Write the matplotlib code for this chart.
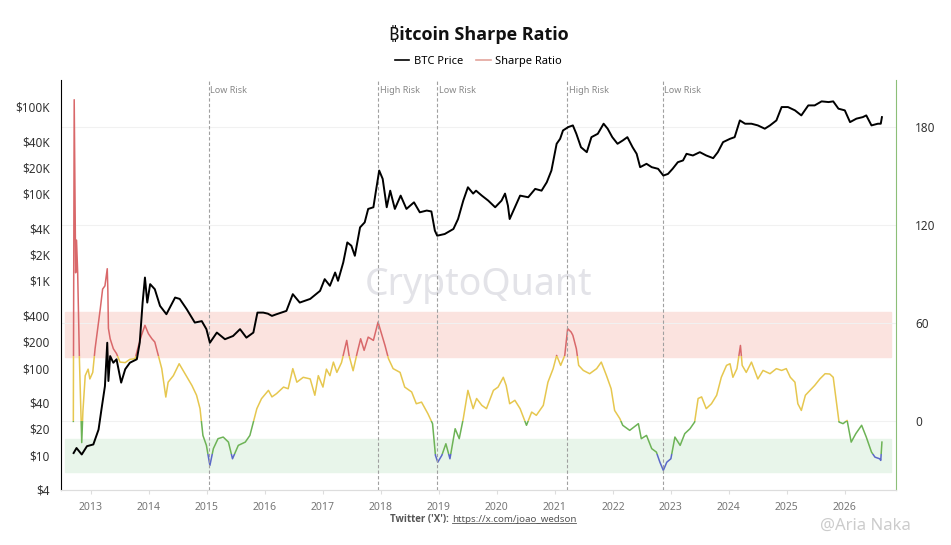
import matplotlib
matplotlib.use("Agg")
import matplotlib.pyplot as plt
from matplotlib.patches import Rectangle
from matplotlib.lines import Line2D
import numpy as np

plt.rcParams['font.family'] = ['Noto Sans', 'DejaVu Sans']

# BTC price (decimal year, USD)
btc_year = [2012.70, 2012.75, 2012.84, 2012.93, 2013.04, 2013.13, 2013.18, 2013.24, 2013.28, 2013.30,
            2013.33, 2013.385, 2013.44, 2013.52, 2013.59, 2013.67, 2013.79, 2013.84, 2013.89, 2013.93,
            2013.97, 2014.02, 2014.10, 2014.19, 2014.30, 2014.45, 2014.53, 2014.65, 2014.79, 2014.91,
            2014.99, 2015.05, 2015.17, 2015.31, 2015.45, 2015.57, 2015.68, 2015.80, 2015.87, 2015.97,
            2016.05, 2016.12, 2016.20, 2016.37, 2016.48, 2016.60, 2016.78, 2016.95, 2017.03, 2017.12,
            2017.21, 2017.26, 2017.35, 2017.42, 2017.49, 2017.55, 2017.64, 2017.72, 2017.78, 2017.87,
            2017.91, 2017.97, 2018.03, 2018.10, 2018.16, 2018.24, 2018.34, 2018.44, 2018.57, 2018.67,
            2018.79, 2018.87, 2018.93, 2018.97, 2019.10, 2019.25, 2019.33, 2019.42, 2019.50, 2019.59,
            2019.64, 2019.74, 2019.85, 2019.97, 2020.08, 2020.14, 2020.19, 2020.22, 2020.31, 2020.40,
            2020.54, 2020.66, 2020.77, 2020.86, 2020.94, 2021.03, 2021.09, 2021.14, 2021.23, 2021.31,
            2021.37, 2021.45, 2021.55, 2021.63, 2021.74, 2021.84, 2021.91, 2021.99, 2022.08, 2022.17,
            2022.25, 2022.34, 2022.41, 2022.47, 2022.58, 2022.67, 2022.78, 2022.87, 2022.95, 2023.03,
            2023.12, 2023.21, 2023.27, 2023.38, 2023.50, 2023.61, 2023.73, 2023.81, 2023.90, 2024.02,
            2024.10, 2024.19, 2024.28, 2024.39, 2024.50, 2024.62, 2024.71, 2024.82, 2024.91, 2025.02,
            2025.14, 2025.25, 2025.37, 2025.48, 2025.60, 2025.72, 2025.80, 2025.89, 2026.00, 2026.09,
            2026.20, 2026.31, 2026.37, 2026.46, 2026.57, 2026.62, 2026.64]
btc_price = [10.6, 12.1, 10.2, 12.7, 13.3, 19.7, 33.5, 62, 195, 71,
             137, 115, 126, 68, 97, 115, 126, 195, 563, 1090,
             563, 916, 801, 516, 414, 643, 620, 473, 332, 345,
             279, 195, 255, 214, 233, 279, 223, 255, 432, 432,
             420, 396, 414, 452, 703, 563, 620, 767, 1045, 877,
             1245, 1000, 1622, 2754, 2524, 1936, 4100, 4680, 6670, 6970,
             10350, 18370, 14750, 6970, 10800, 6670, 9480, 6670, 7940, 6100,
             6390, 6240, 3760, 3290, 3440, 3930, 5110, 8310, 11820, 10000,
             10800, 9480, 8310, 6970, 8310, 10000, 7280, 5110, 6970, 9480,
             9080, 11320, 10800, 13490, 18370, 37240, 42460, 52970, 57840, 60500,
             48500, 34000, 29850, 44360, 48500, 63250, 55460, 44360, 37240, 40640,
             44360, 34000, 28580, 20090, 21950, 20090, 19230, 16100, 16800, 19230,
             22900, 24000, 28580, 27350, 29850, 27350, 25470, 29850, 38900, 42460,
             44360, 69000, 63250, 63250, 60500, 55460, 60500, 69000, 98200, 98200,
             90000, 78800, 102600, 102600, 114100, 112000, 114100, 94100, 90000, 66000,
             72300, 75300, 78800, 60500, 63250, 63250, 75300]

# Sharpe ratio (decimal year, value)
sr_year = [2012.695, 2012.71, 2012.735, 2012.75, 2012.77, 2012.80, 2012.84, 2012.86, 2012.90, 2012.95,
           2012.98, 2013.03, 2013.07, 2013.13, 2013.16, 2013.20, 2013.24, 2013.28, 2013.29, 2013.30,
           2013.33, 2013.385, 2013.44, 2013.50, 2013.59, 2013.67, 2013.76, 2013.82, 2013.87, 2013.93,
           2013.99, 2014.05, 2014.10, 2014.16, 2014.22, 2014.29, 2014.33, 2014.42, 2014.52, 2014.62,
           2014.74, 2014.82, 2014.88, 2014.93, 2014.99, 2015.05, 2015.11, 2015.19, 2015.28, 2015.37,
           2015.44, 2015.54, 2015.66, 2015.74, 2015.86, 2015.94, 2016.06, 2016.12, 2016.20, 2016.32,
           2016.40, 2016.48, 2016.55, 2016.66, 2016.78, 2016.86, 2016.92, 2017.00, 2017.06, 2017.12,
           2017.18, 2017.24, 2017.32, 2017.41, 2017.45, 2017.52, 2017.59, 2017.65, 2017.71, 2017.78,
           2017.87, 2017.95, 2018.01, 2018.07, 2018.13, 2018.21, 2018.33, 2018.41, 2018.53, 2018.61,
           2018.70, 2018.81, 2018.89, 2018.94, 2018.98, 2019.05, 2019.12, 2019.19, 2019.28, 2019.35,
           2019.42, 2019.50, 2019.59, 2019.65, 2019.74, 2019.82, 2019.94, 2020.02, 2020.11, 2020.16,
           2020.22, 2020.31, 2020.40, 2020.51, 2020.60, 2020.68, 2020.80, 2020.88, 2020.97, 2021.03,
           2021.10, 2021.17, 2021.22, 2021.28, 2021.31, 2021.37, 2021.41, 2021.49, 2021.60, 2021.72,
           2021.80, 2021.89, 2021.97, 2022.03, 2022.12, 2022.17, 2022.29, 2022.44, 2022.49, 2022.58,
           2022.67, 2022.75, 2022.81, 2022.87, 2022.93, 2023.00, 2023.07, 2023.16, 2023.24, 2023.33,
           2023.41, 2023.47, 2023.53, 2023.61, 2023.70, 2023.79, 2023.87, 2023.96, 2024.02, 2024.07,
           2024.14, 2024.20, 2024.23, 2024.30, 2024.39, 2024.50, 2024.59, 2024.71, 2024.82, 2024.91,
           2024.99, 2025.06, 2025.14, 2025.19, 2025.25, 2025.32, 2025.40, 2025.48, 2025.57, 2025.66,
           2025.74, 2025.80, 2025.84, 2025.90, 2025.97, 2026.04, 2026.11, 2026.19, 2026.29, 2026.37,
           2026.46, 2026.52, 2026.60, 2026.62, 2026.64]
sr_value = [0, 197, 91, 111, 91, 38, -13, 6, 28, 32,
            26, 30, 44.5, 61, 69, 81, 83, 93.5, 81, 57,
            50.6, 44.5, 41.5, 36.3, 36, 38, 38.4, 46.5, 52.7, 58.8,
            53.7, 50.6, 48.6, 40.4, 32.3, 14.9, 24, 28, 35.3, 29.2,
            22, 16, 7.8, -8.6, -14.7, -27, -16.7, -10.6, -9.6, -12.7,
            -22.9, -14.7, -12.7, -8.6, 7.8, 13.9, 19, 15, 17, 21,
            20, 32.3, 24, 27, 26, 16, 28, 21, 32, 28,
            36.3, 30, 36, 49.6, 40.4, 31, 42, 50.6, 43.5, 51.6,
            49.6, 60.8, 53.7, 46.5, 38.4, 32.3, 30, 21, 18, 10.8,
            11.8, 4.7, -1.4, -20.8, -25, -20.8, -13.7, -22.9, -4.5, -10.6,
            1.7, 19, 7.8, 14, 9.8, 7.8, 19, 21, 27, 22,
            10.8, 12.9, 7.8, -2.4, 5.7, 3.7, 9.8, 24, 32.3, 40.4,
            34.3, 40.4, 56.8, 54.7, 52.7, 44.5, 34.3, 31.2, 29.2, 32.3,
            36.3, 28, 20, 6.7, 1.7, -2.4, -5.5, -1.4, -10.6, -8.6,
            -16.7, -18.8, -24.9, -30, -25, -22.9, -9.6, -14.7, -7.5, -4.5,
            -0.4, 14, 15, 7.8, 10.8, 16, 27, 34.3, 35.3, 27,
            32.3, 46.5, 34.3, 30, 36.3, 26, 31.2, 29.2, 32.3, 31.2,
            32.3, 27, 24, 10.8, 6.7, 16, 19, 22, 26, 29.2,
            29, 27, 16, -0.4, -1.4, 0.6, -12.7, -7.5, -2.4, -9.6,
            -18.8, -21.9, -22.9, -23.9, -12.7]

# risk markers
event_year = [2015.03, 2017.95, 2018.97, 2021.21, 2022.86]
event_label = ["Low Risk", "High Risk", "Low Risk", "High Risk", "Low Risk"]

price_ticks = [4, 10, 20, 40, 100, 200, 400, 1e3, 2e3, 4e3, 1e4, 2e4, 4e4, 1e5]
price_labels = ["$4", "$10", "$20", "$40", "$100", "$200", "$400", "$1K", "$2K", "$4K",
                "$10K", "$20K", "$40K", "$100K"]
sr_ticks = [0, 60, 120, 180]
years = list(range(2013, 2027))

# colour zones for the sharpe line
zones = [(40, 1000, "#d9686a"), (0, 40, "#e6c74f"), (-20, 0, "#6db356"), (-1000, -20, "#5b68c8")]

fig = plt.figure(figsize=(9.51, 5.45), dpi=100)
ax1 = fig.add_axes([0.064, 0.101, 0.878, 0.752])
ax2 = ax1.twinx()

ax1.set_yscale("log")
ax1.set_ylim(4, 200000)
ax1.set_xlim(2012.48, 2026.88)
ax2.set_ylim(-42, 209)

# bands
ax2.axhspan(39.5, 67, xmin=0.005, xmax=0.994, color="#fbe3df", zorder=0)
ax2.axhspan(-31, -11, xmin=0.005, xmax=0.994, color="#e8f5ea", zorder=0)

for y0, y1, c in zones:
    ln, = ax2.plot(sr_year, sr_value, color=c, lw=1.1, zorder=3)
    clip = Rectangle((2010, y0), 20, y1 - y0, transform=ax2.transData)
    ln.set_clip_path(clip)

ax1.plot(btc_year, btc_price, color="black", lw=1.4, zorder=4)
ax1.set_zorder(ax2.get_zorder() + 1)
ax1.patch.set_visible(False)

for yr, lab in zip(event_year, event_label):
    ax1.axvline(yr, color="#a0a0a0", lw=0.8, ls=(0, (3, 2)), zorder=2)
    ax1.text(yr + 0.03, 0.985, lab, transform=ax1.get_xaxis_transform(), fontsize=6.5,
             color="#888888", ha="left", va="top")

ax1.set_yticks(price_ticks)
ax1.set_yticklabels(price_labels)
ax1.yaxis.set_minor_locator(matplotlib.ticker.NullLocator())
ax1.set_xticks(years)
ax1.set_xticklabels([str(y) for y in years])
ax2.set_yticks(sr_ticks)
ax2.grid(axis="y", color="#f1f1f1", lw=0.8)
ax2.set_axisbelow(True)

ax1.tick_params(axis="y", length=0, labelsize=8.5, colors="#333333", pad=8)
ax2.tick_params(axis="y", length=0, labelsize=8.5, colors="#333333", pad=14)
ax1.tick_params(axis="x", length=3, color="#dddddd", labelsize=7.5, labelcolor="#777777", pad=6)

for ax in (ax1, ax2):
    ax.spines["top"].set_visible(False)
    ax.spines["bottom"].set_color("#dddddd")
ax1.spines["left"].set_color("black")
ax1.spines["right"].set_visible(False)
ax2.spines["left"].set_visible(False)
ax2.spines["right"].set_color("#8cbf78")

# watermark
ax1.text(0.5, 0.5, "CryptoQuant", transform=ax1.transAxes, fontsize=27, color="#e3e3e8",
         ha="center", va="center", fontweight="bold", zorder=1)

fig.text(0.503, 0.936, "\u20bfitcoin Sharpe Ratio", fontsize=13, fontweight="bold",
         family=["Open Sans", "Noto Sans", "DejaVu Sans"],
         ha="center", va="center", color="#111111")
handles = [Line2D([], [], color="black", lw=1.2), Line2D([], [], color="#e3a49c", lw=1.2)]
fig.legend(handles, ["BTC Price", "Sharpe Ratio"], loc="center", bbox_to_anchor=(0.503, 0.888),
           ncol=2, frameon=False, fontsize=8, handlelength=1.3, handletextpad=0.4, columnspacing=1.2)

t1 = fig.text(0.472, 0.046, "Twitter ('X'):", fontsize=7, fontweight="bold", color="#555555",
              ha="right", va="center", family=["Open Sans", "DejaVu Sans"])
t2 = fig.text(0.475, 0.046, "https://x.com/joao_wedson", fontsize=7, color="#555555",
              ha="left", va="center")
fig.canvas.draw()
bb = t2.get_window_extent().transformed(fig.transFigure.inverted())
fig.add_artist(Line2D([bb.x0, bb.x1], [bb.y0 + 0.002, bb.y0 + 0.002], color="#555555", lw=0.6,
                      transform=fig.transFigure))

fig.text(0.862, 0.036, "@Aria Naka", fontsize=12, color="#cccccc", ha="left", va="center")

fig.savefig("out.png", dpi=100)
